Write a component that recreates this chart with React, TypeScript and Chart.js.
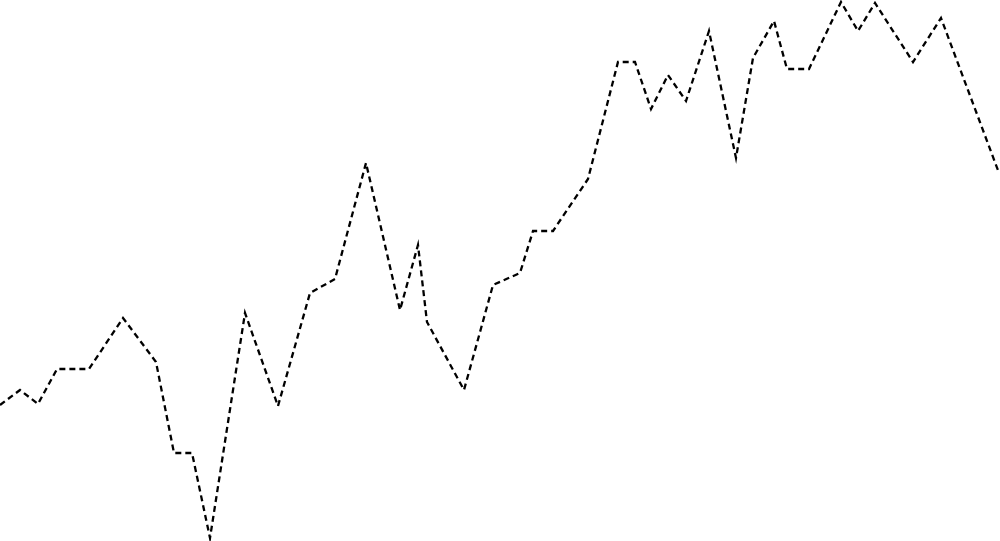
import React, { useEffect, useRef } from "react";
import { Chart, registerables } from "chart.js";

Chart.register(...registerables);

const xValues = [0, 20, 38, 57, 89, 123, 156, 174, 192, 210, 245, 278, 310, 335, 366, 400, 418, 427, 464, 493, 520, 533, 553, 588, 618, 635, 651, 668, 686, 709, 736, 753, 774, 787, 809, 841, 858, 875, 913, 941, 999];
const yValues = [136, 151, 137, 172, 172, 223, 179, 88, 88, 3, 228, 135, 248, 262, 378, 231, 296, 219, 151, 256, 268, 310, 310, 362, 479, 479, 432, 466, 440, 510, 383, 483, 520, 472, 472, 539, 510, 538, 479, 523, 368];

export default function App() {
  const ref = useRef<HTMLCanvasElement | null>(null);
  useEffect(() => {
    document.body.style.margin = "0";
    const canvas = ref.current;
    if (!canvas) return;
    const chart = new Chart(canvas, {
      type: "line",
      data: {
        datasets: [
          {
            data: xValues.map((x, i) => ({ x, y: yValues[i] })),
            borderColor: "#000000",
            borderWidth: 2.3,
            borderDash: [6, 4],
            pointRadius: 0,
            tension: 0,
            fill: false,
            clip: false as any,
          },
        ],
      },
      options: {
        responsive: false,
        animation: false,
        layout: { padding: 0 },
        plugins: { legend: { display: false }, tooltip: { enabled: false } },
        scales: {
          x: { type: "linear", min: 0, max: 1000, display: false },
          y: { type: "linear", min: 0, max: 541, display: false },
        },
      },
    });
    return () => chart.destroy();
  }, []);
  return (
    <div style={{ width: 1000, height: 541, background: "#fff" }}>
      <canvas ref={ref} width={1000} height={541} style={{ display: "block" }} />
    </div>
  );
}
